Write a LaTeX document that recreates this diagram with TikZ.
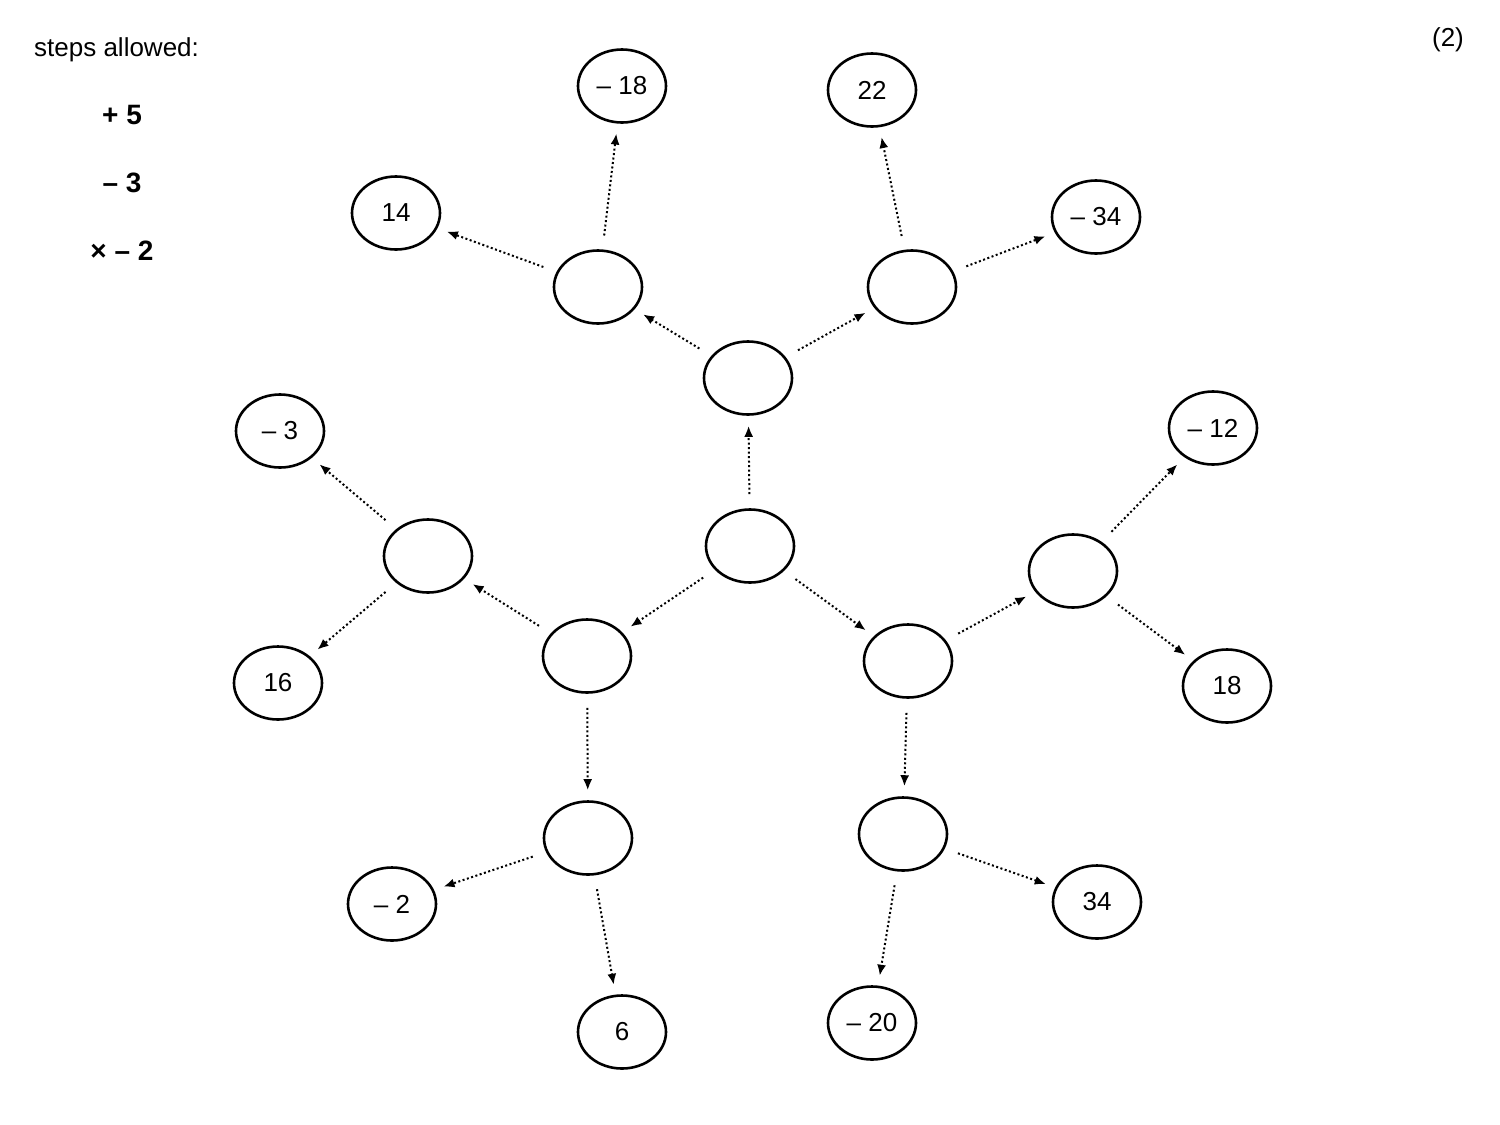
\documentclass[tikz,border=0pt]{standalone}
\usepackage{fontspec}
\setmainfont{Liberation Sans}
\usetikzlibrary{shapes.geometric,arrows.meta}
\begin{document}
\begin{tikzpicture}[x=1pt,y=-1pt,
  bub/.style={draw,ellipse,line width=2.6pt,minimum width=88pt,minimum height=73pt,inner sep=0pt,font=\fontsize{26}{30}\selectfont},
  arr/.style={line width=2pt,dash pattern=on 2pt off 2.5pt,-{Latex[length=11pt,width=9pt]},shorten <=14pt,shorten >=10pt},
  lbl/.style={font=\fontsize{26}{30}\selectfont,inner sep=0pt},
  blbl/.style={font=\fontsize{28}{32}\selectfont\bfseries,inner sep=0pt}]
\useasboundingbox (0,0) rectangle (1500,1125);
\node[lbl,anchor=west] (t) at (34,50) {steps allowed:};
\node[blbl] (s1) at (122,115) {+ 5};
\node[blbl] (s2) at (122,183) {– 3};
\node[blbl] (s3) at (122,251) {× – 2};
\node[lbl] (mk) at (1448,40) {(2)};
\node[bub] (c) at (750,546) {};
\node[bub] (u) at (748,378) {};
\node[bub] (ul) at (598,287) {};
\node[bub] (ur) at (912,287) {};
\node[bub] (a1) at (622,86) {– 18};
\node[bub] (a2) at (396,213) {14};
\node[bub] (a3) at (872,90) {22};
\node[bub] (a4) at (1096,217) {– 34};
\node[bub] (l) at (587,656) {};
\node[bub] (ll) at (428,556) {};
\node[bub] (a5) at (280,431) {– 3};
\node[bub] (a6) at (278,683) {16};
\node[bub] (ld) at (588,838) {};
\node[bub] (a7) at (392,904) {– 2};
\node[bub] (a8) at (622,1032) {6};
\node[bub] (r) at (908,661) {};
\node[bub] (rr) at (1073,571) {};
\node[bub] (a9) at (1213,428) {– 12};
\node[bub] (a10) at (1227,686) {18};
\node[bub] (rd) at (903,834) {};
\node[bub] (a11) at (1097,902) {34};
\node[bub] (a12) at (872,1023) {– 20};
\foreach \a/\b in {c/u,u/ul,u/ur,ul/a1,ul/a2,ur/a3,ur/a4,c/l,l/ll,ll/a5,ll/a6,l/ld,ld/a7,ld/a8,c/r,r/rr,rr/a9,rr/a10,r/rd,rd/a11,rd/a12}
  \draw[arr] (\a) -- (\b);
\end{tikzpicture}
\end{document}
